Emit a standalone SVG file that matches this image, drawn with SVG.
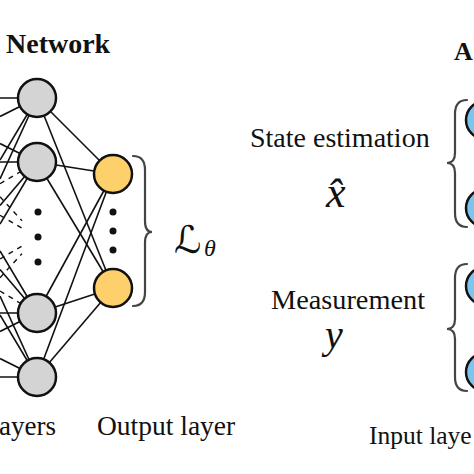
<svg xmlns="http://www.w3.org/2000/svg" width="474" height="474" viewBox="0 0 474 474">
<style>
.t{font-family:"Liberation Serif","Times New Roman",serif;fill:#111}
.b{font-weight:bold}
.m{font-family:"Liberation Serif","DejaVu Serif",serif;font-style:italic;fill:#111}
.ln{stroke:#111;stroke-width:1.6;fill:none}
.dl{stroke:#111;stroke-width:1.4;fill:none;stroke-dasharray:5 5}
.gray{fill:#d4d4d4;stroke:#111;stroke-width:2.5}
.org{fill:#fdd06c;stroke:#111;stroke-width:2.5}
.blu{fill:#7cc6ee;stroke:#111;stroke-width:2.5}
.dot{fill:#111}
.brace{fill:none;stroke:#444;stroke-width:2.2;stroke-linecap:round}
</style>
<rect width="474" height="474" fill="#fff"/>
<g id="connectors">
  <line class="ln" x1="0" y1="98" x2="37" y2="98"/>
  <line class="ln" x1="0" y1="116.5" x2="37" y2="98"/>
  <line class="ln" x1="0" y1="160" x2="37" y2="98"/>
  <line class="ln" x1="0" y1="179" x2="37" y2="98"/>
  <line class="ln" x1="0" y1="143.5" x2="37" y2="162"/>
  <line class="ln" x1="0" y1="162" x2="37" y2="162"/>
  <line class="ln" x1="0" y1="205.6" x2="37" y2="162"/>
  <line class="ln" x1="0" y1="224" x2="37" y2="162"/>
  <line class="ln" x1="0" y1="251" x2="37" y2="313"/>
  <line class="ln" x1="0" y1="269.5" x2="37" y2="313"/>
  <line class="ln" x1="0" y1="313" x2="37" y2="313"/>
  <line class="ln" x1="0" y1="331.5" x2="37" y2="313"/>
  <line class="ln" x1="0" y1="296" x2="37" y2="377"/>
  <line class="ln" x1="0" y1="315" x2="37" y2="377"/>
  <line class="ln" x1="0" y1="358.5" x2="37" y2="377"/>
  <line class="ln" x1="0" y1="377" x2="37" y2="377"/>
  <line class="dl" x1="0" y1="196.8" x2="22" y2="220.7"/>
  <line class="dl" x1="0" y1="215.3" x2="22" y2="228.2"/>
  <line class="dl" x1="0" y1="259" x2="22" y2="246"/>
  <line class="dl" x1="0" y1="277.7" x2="22" y2="253.6"/>
  <line class="dl" x1="0" y1="183.7" x2="20" y2="172"/>
  <line class="dl" x1="0" y1="291" x2="20" y2="303"/>
  <line class="ln" x1="37" y1="98" x2="113" y2="174"/>
  <line class="ln" x1="37" y1="98" x2="113" y2="288"/>
  <line class="ln" x1="37" y1="162" x2="113" y2="174"/>
  <line class="ln" x1="37" y1="162" x2="113" y2="288"/>
  <line class="ln" x1="37" y1="313" x2="113" y2="174"/>
  <line class="ln" x1="37" y1="313" x2="113" y2="288"/>
  <line class="ln" x1="37" y1="377" x2="113" y2="174"/>
  <line class="ln" x1="37" y1="377" x2="113" y2="288"/>
</g>
<g id="hidden1"><circle class="gray" cx="37" cy="98" r="19"/></g>
<g id="hidden2"><circle class="gray" cx="37" cy="162" r="19"/></g>
<g id="hidden3"><circle class="gray" cx="37" cy="313" r="19"/></g>
<g id="hidden4"><circle class="gray" cx="37" cy="377" r="19"/></g>
<g id="hidden-dots">
  <circle class="dot" cx="38" cy="212" r="3.5"/>
  <circle class="dot" cx="38" cy="237" r="3.5"/>
  <circle class="dot" cx="38" cy="262" r="3.5"/>
</g>
<g id="output1"><circle class="org" cx="113" cy="174" r="19"/></g>
<g id="output2"><circle class="org" cx="113" cy="288" r="19"/></g>
<g id="output-dots">
  <circle class="dot" cx="113" cy="212" r="3.5"/>
  <circle class="dot" cx="113" cy="231" r="3.5"/>
  <circle class="dot" cx="113" cy="250" r="3.5"/>
</g>
<g id="loss">
  <path class="brace" d="M133,156 Q145,156 145,170 L145,221 Q145,232 152,232 Q145,232 145,243 L145,292 Q145,306 133,306"/>
  <text x="174" y="253" font-size="38" style="font-family:'DejaVu Serif','DejaVu Sans',serif;fill:#111">ℒ</text>
  <text class="m" x="204" y="256" font-size="24">θ</text>
</g>
<g id="input1"><circle class="blu" cx="485" cy="120" r="19"/></g>
<g id="input2"><circle class="blu" cx="485" cy="208" r="19"/></g>
<g id="input3"><circle class="blu" cx="485" cy="286" r="19"/></g>
<g id="input4"><circle class="blu" cx="485" cy="372" r="19"/></g>
<g id="state">
  <path class="brace" d="M467,100 Q455,100 455,114 L455,153 Q455,163 447,163 Q455,163 455,173 L455,213 Q455,227 467,227"/>
  <text class="t" x="250" y="147" font-size="28">State estimation</text>
  <text class="m" x="326" y="207" font-size="44">x̂</text>
</g>
<g id="measurement">
  <path class="brace" d="M467,264 Q455,264 455,278 L455,319 Q455,329 447,329 Q455,329 455,339 L455,377 Q455,391 467,391"/>
  <text class="t" x="271" y="309" font-size="28.3">Measurement</text>
  <text class="m" x="325" y="348" font-size="40">y</text>
</g>
<g id="labels">
  <text class="t b" x="6" y="53" font-size="28">Network</text>
  <text class="t b" x="454" y="60" font-size="26">A</text>
  <text class="t" x="-1" y="435" font-size="27">ayers</text>
  <text class="t" x="97" y="435" font-size="27.5">Output layer</text>
  <text class="t" x="369" y="444" font-size="25.5">Input laye</text>
</g>
</svg>
